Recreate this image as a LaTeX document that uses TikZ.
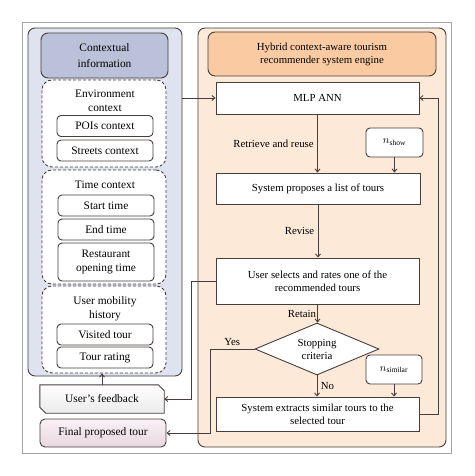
\documentclass[tikz,border=0pt]{standalone}
\usepackage{fontspec}
\setmainfont{Liberation Serif}
\usetikzlibrary{arrows.meta, shapes.geometric, backgrounds}
\definecolor{linegray}{RGB}{70,62,60}
\definecolor{ctxfill}{RGB}{222,227,239}
\definecolor{ctxhead}{RGB}{186,193,216}
\definecolor{engfill}{RGB}{253,233,216}
\definecolor{enghead}{RGB}{250,203,163}
\definecolor{finaltop}{RGB}{249,241,245}
\definecolor{finalbot}{RGB}{233,214,224}

\begin{document}
\begin{tikzpicture}[x=1pt, y=-1pt, font=\fontsize{10.8}{13}\selectfont,
	line/.style={draw=linegray, line width=0.9pt},
	arr/.style={line, -{Straight Barb[length=3pt, width=5pt]}},
	panel/.style={line, rounded corners=7pt, inner sep=0pt},
	headbox/.style={line, rounded corners=7pt, inner sep=0pt, align=center},
	dashbox/.style={line, dashed, dash pattern=on 3pt off 2pt, rounded corners=10pt, fill=white, inner sep=0pt},
	ctxtext/.style={font=\fontsize{11.4}{13.5}\selectfont, align=center},
	ctxitem/.style={line, ctxtext, rounded corners=4pt, fill=white, minimum width=96pt, minimum height=21pt, inner sep=0pt},
	stepbox/.style={line, fill=white, minimum width=203pt, inner sep=0pt, align=center},
	parbox/.style={line, rounded corners=4pt, fill=white, minimum width=57pt, minimum height=29pt, inner sep=0pt}]
	\useasboundingbox (0,0) rectangle (474,476);
	\draw[draw=gray!70, line width=0.8pt] (22,22) rectangle (451,453);

	\node[panel, fill=ctxfill, minimum width=154pt, minimum height=348pt] (ctxpanel) at (105,202) {};
	\node[panel, fill=engfill, minimum width=248pt, minimum height=419pt] (engpanel) at (322,237.5) {};

	\node[headbox, ctxtext, fill=ctxhead, minimum width=127pt, minimum height=45pt] (ctxtitle) at (104.5,55.5) {Contextual\\[2pt] information};
	\node[dashbox, minimum width=124pt, minimum height=87pt] (envbox) at (104,123.5) {};
	\node[ctxtext] (envtitle) at (105,101) {Environment\\ context};
	\node[ctxitem] (poi) at (105,126) {POIs context};
	\node[ctxitem] (streets) at (105,150.5) {Streets context};

	\node[dashbox, minimum width=124pt, minimum height=114pt] (timebox) at (104,227) {};
	\node[ctxtext] (timetitle) at (105,185) {Time context};
	\node[ctxitem] (start) at (106,205.5) {Start time};
	\node[ctxitem] (end) at (106,229.5) {End time};
	\node[ctxitem, minimum height=38pt] (rest) at (106,262) {Restaurant\\ opening time};

	\node[dashbox, minimum width=124pt, minimum height=87pt] (mobbox) at (104,329.5) {};
	\node[ctxtext] (mobtitle) at (105,309) {User mobility\\ history};
	\node[ctxitem] (visited) at (105,334.5) {Visited tour};
	\node[ctxitem] (rating) at (105,357.5) {Tour rating};

	\node[ctxtext, minimum width=124pt, minimum height=28pt, inner sep=0pt] (feedback) at (102,399) {User's feedback};
	\begin{scope}[on background layer]
		\draw[line, top color=white, bottom color=gray!16] (feedback.north west) -- ([xshift=-6pt]feedback.north east)
			-- ([yshift=-6pt]feedback.north east) -- (feedback.south east) -- ([xshift=6pt]feedback.south west)
			-- ([yshift=6pt]feedback.south west) -- cycle;
	\end{scope}
	\node[line, ctxtext, rounded corners=5pt, top color=finaltop, bottom color=finalbot,
		minimum width=126pt, minimum height=28pt, inner sep=0pt] (final) at (103,433) {Final proposed tour};

	\node[headbox, fill=enghead, minimum width=228pt, minimum height=44pt] (engtitle) at (322,54) {Hybrid context-aware tourism\\ recommender system engine};
	\node[stepbox, minimum height=32pt] (mlp) at (317.5,98) {MLP ANN};
	\node[parbox] (nshow) at (394.5,142.5) {$n_{\mathrm{show}}$};
	\node[stepbox, minimum width=204pt, minimum height=31pt] (propose) at (318,188.5) {System proposes a list of tours};
	\node[stepbox, minimum height=46pt] (select) at (317.5,281) {User selects and rates one of the\\ recommended tours};
	\node[line, diamond, fill=white, shape aspect=2.4, minimum width=124pt, minimum height=52pt, inner sep=0pt, align=center] (crit) at (317,349) {Stopping\\ criteria};
	\node[parbox, minimum width=56pt] (nsim) at (394,369.5) {$n_{\mathrm{similar}}$};
	\node[stepbox, minimum height=34pt] (extract) at (317.5,414) {System extracts similar tours to the\\ selected tour};

	\coordinate (yesbend) at (210,349);
	\coordinate (fbbend) at (191,281);
	\coordinate (loopx) at (438,0);

	\draw[arr] (ctxpanel.east |- mlp.west) -- (mlp.west);
	\draw[arr] (mlp.south) -- node[left] {Retrieve and reuse} (mlp.south |- propose.north);
	\draw[arr] (nshow.south) -- (nshow.south |- propose.north);
	\draw[arr] (propose.south) -- node[left] {Revise} (propose.south |- select.north);
	\draw[arr] (select.south) -- node[left, inner sep=1pt] {Retain} (select.south |- crit.north);
	\draw[arr] (crit.south) -- node[right] {No} (crit.south |- extract.north);
	\draw[arr] (nsim.south) -- (nsim.south |- extract.north);
	\draw[arr] (extract.east) -- (extract.east -| loopx) |- (mlp.east);
	\draw[arr] (crit.west) -- node[above] {Yes} (yesbend) |- (final.east);
	\draw[arr] (select.west) -- (fbbend) |- (feedback.east);
	\draw[arr] (feedback.north) -- (feedback.north |- mobbox.south);
\end{tikzpicture}
\end{document}
